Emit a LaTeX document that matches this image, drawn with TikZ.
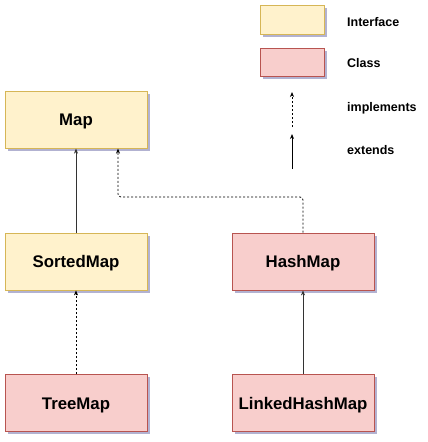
\documentclass[tikz,border=0pt]{standalone}
\usepackage{fontspec}
\setmainfont{Liberation Sans}
\usetikzlibrary{shadows,arrows.meta}

\begin{document}
\begin{tikzpicture}[x=1pt,y=-1pt,
    caja/.style={line width=0.8pt,minimum width=142pt,minimum height=57pt,
        font=\bfseries\fontsize{16.8}{19}\selectfont,text height=12pt,text depth=0pt,
        drop shadow={shadow xshift=2.5pt,shadow yshift=-2.5pt,fill=black!60!blue,opacity=.3}},
    iface/.style={caja,draw=ib,fill=ir},
    clase/.style={caja,draw=cb,fill=cr},
    leyenda/.style={anchor=west,inner sep=0pt,font=\bfseries\fontsize{12.5}{14}\selectfont,text height=9pt,text depth=0pt},
    ext/.style={draw=black!80,line width=0.8pt,-{Stealth[length=5pt,width=4pt,inset=1.5pt]}},
    imp/.style={ext,draw=black,dash pattern=on 2pt off 2pt,rounded corners=3pt}]
        %colores
        \definecolor{ir}{HTML}{FFF2CC}
        \definecolor{ib}{HTML}{D6B656}
        \definecolor{cr}{HTML}{F8CECC}
        \definecolor{cb}{HTML}{B85450}

        \useasboundingbox (0,0) rectangle (428,442);

        % leyenda
        \node[iface,minimum width=64pt,minimum height=28.5pt] (li) at (292,20) {};
        \node[clase,minimum width=64pt,minimum height=28.5pt] (lc) at (292,62.5) {};
        \node[leyenda] (ti) at (347,22) {Interface};
        \node[leyenda] (tc) at (347,63) {Class};
        \node[leyenda] (tm) at (347,107) {implements};
        \node[leyenda] (te) at (347,150) {extends};
        \coordinate (m1) at (292,127);
        \coordinate (m2) at (292,92);
        \coordinate (e1) at (292,169);
        \coordinate (e2) at (292,134);
        \draw[imp] (m1) -- (m2);
        \draw[ext,draw=black] (e1) -- (e2);

        % cajas
        \node[iface] (map) at (76,119.7) {Map};
        \node[iface] (sorted) at (76,261.5) {SortedMap};
        \node[clase] (hash) at (303,261.5) {HashMap};
        \node[clase] (tree) at (76,403) {TreeMap};
        \node[clase] (linked) at (303,403) {LinkedHashMap};

        % flechas
        \coordinate (codo) at (118,197);
        \draw[ext] (sorted) -- (map);
        \draw[imp] (hash.north) |- (codo) -- (codo |- map.south);
        \draw[imp] (tree) -- (sorted);
        \draw[ext] (linked) -- (hash);
    \end{tikzpicture}
\end{document}
